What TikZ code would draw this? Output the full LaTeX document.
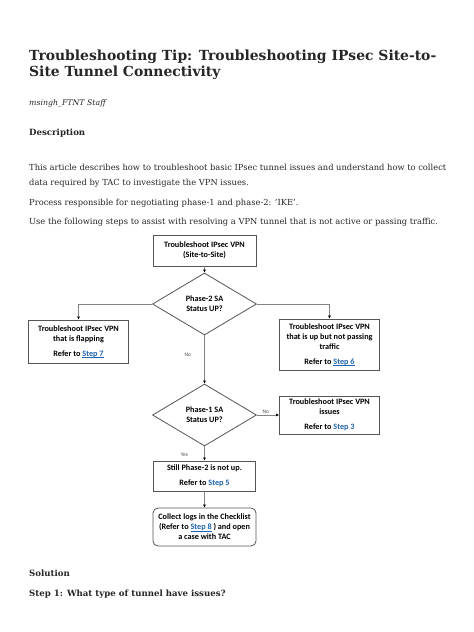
\documentclass[tikz,border=0pt]{standalone}
\usepackage{fontspec}
\setmainfont{DejaVu Serif}
\newfontfamily\chartfont{Carlito}
\usepackage{tikz}
\usetikzlibrary{positioning,arrows.meta,shapes.geometric}
\definecolor{linkblue}{RGB}{30,100,180}
\definecolor{edge}{RGB}{85,85,85}
\definecolor{wire}{RGB}{130,130,130}
\newcommand{\steplink}[1]{\textcolor{linkblue}{\setbox0\hbox{Step #1}\rlap{\rule[-1.2pt]{\wd0}{0.45pt}}\box0}}
\newcommand{\stepref}[1]{\textcolor{linkblue}{Step #1}}

\begin{document}
\begin{tikzpicture}[x=1pt, y=-1pt,
  txt/.style = {anchor=base west, inner sep=0, text=black!85},
  box/.style = {draw=edge, line width=.8pt, fill=white, align=center, inner sep=0,
    font=\chartfont\bfseries\fontsize{8.2}{10}\selectfont},
  decision/.style = {box, diamond, minimum width=104pt, minimum height=62pt},
  flow/.style = {draw=wire, line width=.8pt, -{Latex[length=3pt,width=3pt,black]}},
  yesno/.style = {font=\chartfont\fontsize{5.5}{6}\selectfont, text=black!70, inner sep=1pt}]
\useasboundingbox[fill=white] (0,0) rectangle (474,632);

% article text
\node[txt, font=\bfseries\fontsize{13.9}{16}\selectfont] (title1) at (29,60.5) {Troubleshooting Tip: Troubleshooting IPsec Site-to-};
\node[txt, font=\bfseries\fontsize{13.9}{16}\selectfont] (title2) at (29,76.5) {Site Tunnel Connectivity};
\node[txt, font=\itshape\fontsize{7.8}{9}\selectfont] (author) at (29,105) {msingh\_FTNT Staff};
\node[txt, font=\bfseries\fontsize{8.6}{10}\selectfont] (desc) at (29,135) {Description};
\node[txt, font=\fontsize{8.33}{10}\selectfont] (para1) at (29,170.5) {This article describes how to troubleshoot basic IPsec tunnel issues and understand how to collect};
\node[txt, font=\fontsize{8.33}{10}\selectfont] (para2) at (29,185) {data required by TAC to investigate the VPN issues.};
\node[txt, font=\fontsize{8.33}{10}\selectfont] (para3) at (29,205.5) {Process responsible for negotiating phase-1 and phase-2: 'IKE'.};
\node[txt, font=\fontsize{8.33}{10}\selectfont] (para4) at (29,224) {Use the following steps to assist with resolving a VPN tunnel that is not active or passing traffic.};

% flowchart
\node[box, minimum width=103pt, minimum height=31pt] (start) at (204.5,250.5) {Troubleshoot IPsec VPN\\(Site-to-Site)};
\node[decision] (phase2) at (204.5,304) {Phase-2 SA\\Status UP?};
\node[box, minimum width=100pt, minimum height=43pt] (flapping) at (78.5,341.5) {Troubleshoot IPsec VPN\\that is flapping\\[4.7pt]Refer to \steplink{7}};
\node[box, minimum width=100pt, minimum height=51pt] (nopass) at (329.5,344.5) {Troubleshoot IPsec VPN\\that is up but not passing\\traffic\\[4.7pt]Refer to \steplink{6}};
\node[decision] (phase1) at (204.5,415) {Phase-1 SA\\Status UP?};
\node[box, minimum width=100pt, minimum height=38pt] (ike) at (329.5,415) {Troubleshoot IPsec VPN\\issues\\[4.5pt]Refer to \stepref{3}};
\node[box, minimum width=102pt, minimum height=30pt] (still) at (204.5,476) {Still Phase-2 is not up.\\[4.7pt]Refer to \stepref{5}};
\node[box, rounded corners=5pt, minimum width=103pt, minimum height=38pt] (logs) at (204.5,527) {Collect logs in the Checklist\\(Refer to \steplink{8} ) and open\\a case with TAC};

\draw[flow] (start) -- (phase2);
\draw[flow] (phase2.west) -| (flapping.north);
\draw[flow] (phase2.east) -| (nopass.north);
\draw[flow] (phase2) -- node[yesno, pos=.4, left=12pt] {No} (phase1);
\draw[flow] (phase1) -- node[yesno, pos=.4, above] {No} (ike);
\draw[flow] (phase1) -- node[yesno, pos=.6, left=15pt] {Yes} (still);
\draw[flow] (still) -- (logs);

% solution
\node[txt, font=\bfseries\fontsize{8.6}{10}\selectfont] (solution) at (29,576.5) {Solution};
\node[txt, font=\bfseries\fontsize{8.6}{10}\selectfont] (step1) at (29,596.5) {Step 1: What type of tunnel have issues?};
\end{tikzpicture}
\end{document}
